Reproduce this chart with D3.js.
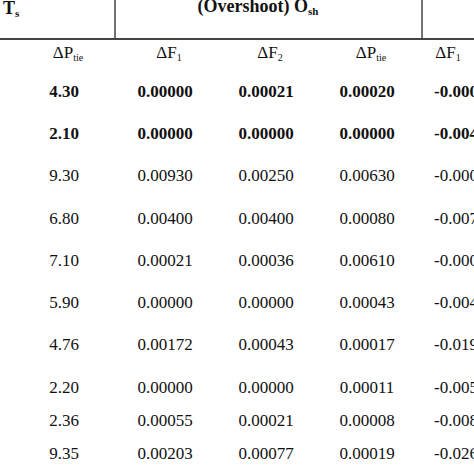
<!DOCTYPE html><html><head><meta charset="utf-8"><script src="https://cdn.jsdelivr.net/npm/d3@7"></script>
<style>body{margin:0;background:#fff}</style></head><body><svg id="c" width="474" height="474" font-family="'Liberation Serif', 'Times New Roman', 'DejaVu Serif', serif"></svg>
<script>
const columns=[{b:"ΔP",s:"tie"},{b:"ΔF",s:"1"},{b:"ΔF",s:"2"},{b:"ΔP",s:"tie"},{b:"ΔF",s:"1"}];
const colPtie1=["4.30","2.10","9.30","6.80","7.10","5.90","4.76","2.20","2.36","9.35"];
const colF1=["0.00000","0.00000","0.00930","0.00400","0.00021","0.00000","0.00172","0.00000","0.00055","0.00203"];
const colF2=["0.00021","0.00000","0.00250","0.00400","0.00036","0.00000","0.00043","0.00000","0.00021","0.00077"];
const colPtie2=["0.00020","0.00000","0.00630","0.00080","0.00610","0.00043","0.00017","0.00011","0.00008","0.00019"];
const colF1b=["-0.0000","-0.0040","-0.0000","-0.0070","-0.0000","-0.0040","-0.0190","-0.0050","-0.0080","-0.0260"];
const boldRows=[0,1];
const svg=d3.select("#c");
const x=d3.scaleLinear().domain([0,4]).range([64,468]);
const y=d3.scaleLinear().domain([0,6,7,9]).range([91,344,387,453]);
const cols=[colPtie1,colF1,colF2,colPtie2,colF1b];
svg.append("line").attr("x1",0).attr("x2",474).attr("y1",39).attr("y2",39).attr("stroke","#444").attr("stroke-width",2);
[115,422].forEach(v=>svg.append("line").attr("x1",v).attr("x2",v).attr("y1",0).attr("y2",39).attr("stroke","#444").attr("stroke-width",1.5));
const t=svg.append("text").attr("x",3).attr("y",14).attr("font-size",18).attr("font-weight","bold").attr("fill","#111");
t.append("tspan").text("T");t.append("tspan").attr("font-size",11).attr("dy",3).text("s");
const o=svg.append("text").attr("x",258).attr("y",12).attr("text-anchor","middle").attr("font-size",18).attr("font-weight","bold").attr("fill","#111");
o.append("tspan").text("(Overshoot) O");o.append("tspan").attr("font-size",11).attr("dy",3).text("sh");
columns.forEach((c,i)=>{const h=svg.append("text").attr("x",i==4?448:x(i)+4).attr("y",58).attr("text-anchor","middle").attr("font-size",17).attr("fill","#111");
 h.append("tspan").text(c.b);h.append("tspan").attr("font-size",10).attr("dy",3).text(c.s);});
cols.forEach((col,i)=>col.forEach((v,r)=>{
 svg.append("text").attr("x",i==4?434:x(i)).attr("y",y(r)+6).attr("text-anchor",i==4?"start":"middle")
 .attr("font-size",17).attr("fill","#111").attr("font-weight",boldRows.includes(r)?"bold":"normal").text(v);}));
</script></body></html>
